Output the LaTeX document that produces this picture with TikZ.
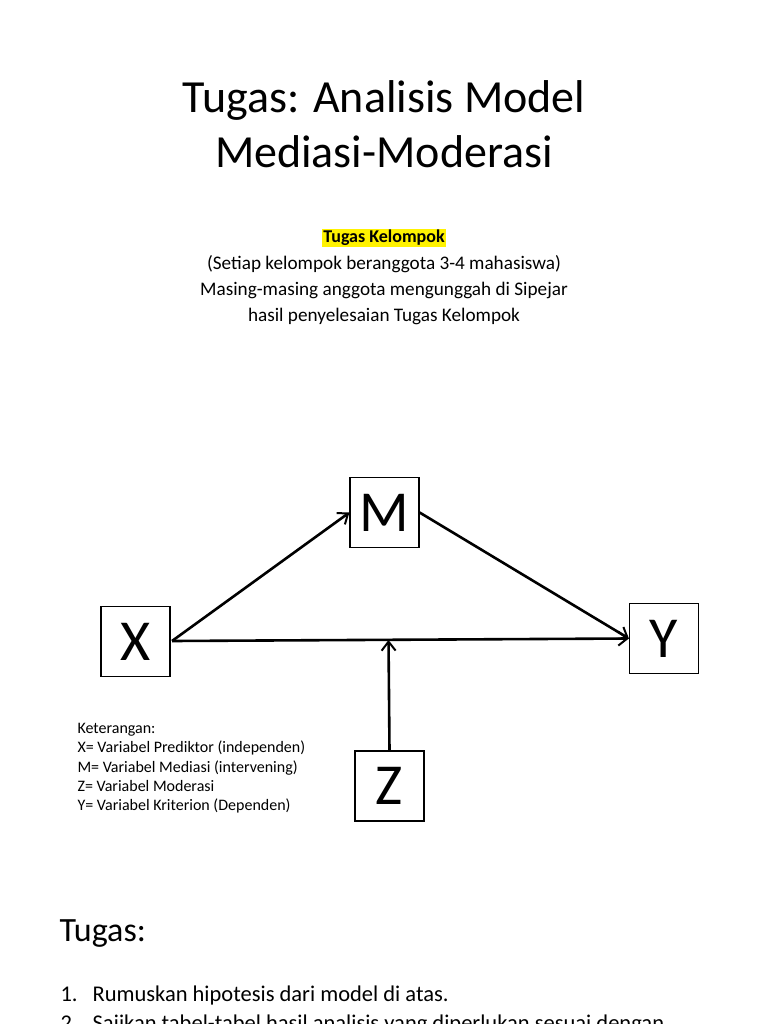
\documentclass[tikz,border=0pt]{standalone}
\usepackage{fontspec}
\setmainfont{Carlito}
\usetikzlibrary{arrows.meta}
\begin{document}
\begin{tikzpicture}[x=1pt,y=-1pt,
  box/.style={draw,line width=1.2pt,minimum width=69pt,minimum height=70pt,inner sep=0pt,font=\fontsize{58}{60}\selectfont},
  arr/.style={line width=2.6pt,-{Straight Barb[length=9pt,width=14pt,line width=2pt]}},
  txt/.style={font=\fontsize{19.2}{22}\selectfont},
  ket/.style={anchor=base west,font=\fontsize{16}{18}\selectfont},
  lst/.style={anchor=base west,font=\fontsize{22.5}{25}\selectfont}]
\useasboundingbox[fill=white] (0,0) rectangle (768,1024);
\clip (0,0) rectangle (768,1024);
\node (t1) at (384,100) {\fontsize{46}{50}\selectfont Tugas: Analisis Model};
\node (t2) at (384,152) {\fontsize{46}{50}\selectfont Mediasi-Moderasi};
\node (tk) [fill=yellow,inner sep=1pt,font=\fontsize{18}{21}\selectfont\bfseries] at (384,238) {Tugas Kelompok};
\node (l1) [txt] at (384,264) {(Setiap kelompok beranggota 3-4 mahasiswa)};
\node (l2) [txt] at (384,290) {Masing-masing anggota mengunggah di Sipejar};
\node (l3) [txt] at (384,316) {hasil penyelesaian Tugas Kelompok};
\node (M) [box] at (384.5,512.5) {M};
\node (X) [box] at (135.5,641.5) {X};
\node (Y) [box] at (664,638.5) {Y};
\node (Z) [box] at (389.5,786) {Z};
\coordinate (xo) at (172,641);
\coordinate (mid) at (388.5,640);
\draw[arr] (xo) -- (M.west);
\draw[arr] (M.east) -- (Y.west);
\draw[arr] (xo) -- (Y.west);
\draw[arr] (Z.north) -- (mid);
\node (k0) [ket] at (74,733) {Keterangan:};
\node (k1) [ket] at (74,752) {X= Variabel Prediktor (independen)};
\node (k2) [ket] at (74,772) {M= Variabel Mediasi (intervening)};
\node (k3) [ket] at (74,791) {Z= Variabel Moderasi};
\node (k4) [ket] at (74,810) {Y= Variabel Kriterion (Dependen)};
\node (tg) [anchor=base west,font=\fontsize{34}{36}\selectfont] at (56,941) {Tugas:};
\node (n1) [lst] at (57,1001) {1.};
\node (r1) [lst] at (89,1001) {Rumuskan hipotesis dari model di atas.};
\node (n2) [lst] at (57,1030) {2.};
\node (r2) [lst] at (89,1030) {Sajikan tabel-tabel hasil analisis yang diperlukan sesuai dengan};
\end{tikzpicture}
\end{document}
